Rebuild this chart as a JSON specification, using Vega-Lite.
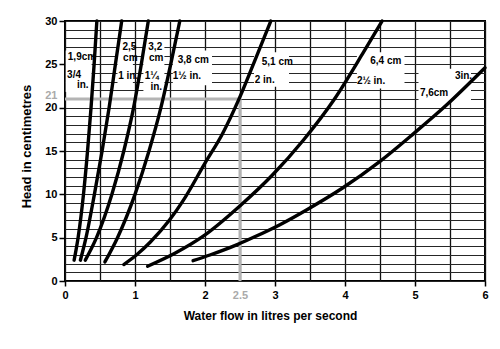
{
  "$schema": "https://vega.github.io/schema/vega-lite/v6.json",
  "width": 420,
  "height": 260,
  "autosize": {"type": "none"},
  "padding": {"left": 65, "top": 21, "right": 15, "bottom": 68},
  "background": "white",
  "config": {"view": {"stroke": "black", "strokeWidth": 2}},
  "datasets": {
    "curves": [
      {"s": "A", "q": 0.13, "h": 2.4}, {"s": "A", "q": 0.187, "h": 5}, {"s": "A", "q": 0.264, "h": 10}, {"s": "A", "q": 0.322, "h": 15}, {"s": "A", "q": 0.372, "h": 20}, {"s": "A", "q": 0.416, "h": 25}, {"s": "A", "q": 0.455, "h": 30},
      {"s": "B", "q": 0.22, "h": 2.4}, {"s": "B", "q": 0.3, "h": 5}, {"s": "B", "q": 0.42, "h": 10}, {"s": "B", "q": 0.53, "h": 15}, {"s": "B", "q": 0.63, "h": 20}, {"s": "B", "q": 0.72, "h": 25}, {"s": "B", "q": 0.81, "h": 30},
      {"s": "C", "q": 0.29, "h": 2.4}, {"s": "C", "q": 0.45, "h": 5}, {"s": "C", "q": 0.67, "h": 10}, {"s": "C", "q": 0.84, "h": 15}, {"s": "C", "q": 0.98, "h": 20}, {"s": "C", "q": 1.09, "h": 25}, {"s": "C", "q": 1.19, "h": 30},
      {"s": "D", "q": 0.57, "h": 2.2}, {"s": "D", "q": 0.75, "h": 5}, {"s": "D", "q": 1.0, "h": 10}, {"s": "D", "q": 1.2, "h": 15}, {"s": "D", "q": 1.37, "h": 20}, {"s": "D", "q": 1.51, "h": 25}, {"s": "D", "q": 1.64, "h": 30},
      {"s": "E", "q": 0.84, "h": 1.9}, {"s": "E", "q": 1.02, "h": 3}, {"s": "E", "q": 1.22, "h": 4.5}, {"s": "E", "q": 1.49, "h": 7}, {"s": "E", "q": 1.69, "h": 9.3}, {"s": "E", "q": 2.0, "h": 13.6}, {"s": "E", "q": 2.25, "h": 17}, {"s": "E", "q": 2.48, "h": 20.9}, {"s": "E", "q": 2.69, "h": 25}, {"s": "E", "q": 2.94, "h": 30},
      {"s": "F", "q": 1.18, "h": 1.7}, {"s": "F", "q": 1.57, "h": 3.2}, {"s": "F", "q": 1.98, "h": 5.2}, {"s": "F", "q": 2.49, "h": 8.6}, {"s": "F", "q": 2.96, "h": 12.2}, {"s": "F", "q": 3.41, "h": 16.3}, {"s": "F", "q": 3.85, "h": 21.0}, {"s": "F", "q": 4.25, "h": 26.2}, {"s": "F", "q": 4.53, "h": 30},
      {"s": "G", "q": 1.83, "h": 2.35}, {"s": "G", "q": 2.07, "h": 3}, {"s": "G", "q": 2.46, "h": 4.2}, {"s": "G", "q": 2.71, "h": 5.1}, {"s": "G", "q": 3.07, "h": 6.5}, {"s": "G", "q": 3.45, "h": 8.2}, {"s": "G", "q": 3.96, "h": 10.7}, {"s": "G", "q": 4.5, "h": 13.8}, {"s": "G", "q": 4.98, "h": 17}, {"s": "G", "q": 5.45, "h": 20.3}, {"s": "G", "q": 6.0, "h": 24.6}
    ],
    "boxes": [
      {"q": 0.01, "q2": 0.38, "h": 21.8, "h2": 26.6},
      {"q": 0.75, "q2": 0.97, "h": 22.8, "h2": 27.6},
      {"q": 1.12, "q2": 1.42, "h": 21.6, "h2": 27.6},
      {"q": 1.54, "q2": 2.1, "h": 22.6, "h2": 26.6},
      {"q": 2.7, "q2": 3.2, "h": 22.4, "h2": 26.4},
      {"q": 4.17, "q2": 4.85, "h": 22.2, "h2": 26.4},
      {"q": 5.05, "q2": 5.8, "h": 20.8, "h2": 24.5}
    ],
    "highlight": [
      {"q": 0, "q2": 2.5, "h": 21, "h2": 21},
      {"q": 2.5, "q2": 2.5, "h": 0, "h2": 21}
    ],
    "labels": [
      {"t": "1,9cm", "q": 0.04, "h": 25.8},
      {"t": "3/4", "q": 0.03, "h": 23.8},
      {"t": "in.", "q": 0.17, "h": 22.6},
      {"t": "2,5", "q": 0.82, "h": 27.0},
      {"t": "cm", "q": 0.83, "h": 25.7},
      {"t": "1 in.", "q": 0.76, "h": 23.6},
      {"t": "3,2", "q": 1.19, "h": 27.0},
      {"t": "cm", "q": 1.2, "h": 25.7},
      {"t": "1¼", "q": 1.14, "h": 23.7},
      {"t": "in.", "q": 1.22, "h": 22.4},
      {"t": "3,8 cm", "q": 1.61, "h": 25.5},
      {"t": "1½ in.", "q": 1.54, "h": 23.6},
      {"t": "5,1 cm", "q": 2.81, "h": 25.3},
      {"t": "2 in.", "q": 2.71, "h": 23.2},
      {"t": "6,4 cm", "q": 4.36, "h": 25.4},
      {"t": "2½ in.", "q": 4.17, "h": 23.1},
      {"t": "3in.", "q": 5.57, "h": 23.6},
      {"t": "7,6cm", "q": 5.07, "h": 21.7}
    ]
  },
  "encoding": {
    "x": {
      "field": "q", "type": "quantitative",
      "scale": {"domain": [0, 6], "nice": false},
      "axis": {
        "title": "Water flow in litres per second",
        "values": [0, 0.5, 1, 1.5, 2, 2.5, 3, 3.5, 4, 4.5, 5, 5.5, 6],
        "grid": true, "gridColor": "#111111", "gridWidth": 1.3,
        "domain": false,
        "tickSize": 5, "tickWidth": 1.5,
        "tickColor": {"condition": {"test": "datum.value % 1 == 0", "value": "black"}, "value": "transparent"},
        "labelExpr": "datum.value % 1 == 0 ? format(datum.value, 'd') : (datum.value == 2.5 ? '2.5' : '')",
        "labelColor": {"condition": {"test": "datum.value == 2.5", "value": "#aaaaaa"}, "value": "black"},
        "labelFont": "Liberation Sans", "labelFontWeight": "bold", "labelFontSize": 11,
        "labelPadding": 3, "labelFlush": false, "labelOverlap": false,
        "titleFont": "Liberation Sans", "titleFontWeight": "bold", "titleFontSize": 12, "titleColor": "black",
        "titleX": 205, "titleY": 34, "titleBaseline": "middle"
      }
    },
    "y": {
      "field": "h", "type": "quantitative",
      "scale": {"domain": [0, 30], "nice": false},
      "axis": {
        "title": "Head in centimetres",
        "values": [0, 1, 2, 3, 4, 5, 6, 7, 8, 9, 10, 11, 12, 13, 14, 15, 16, 17, 18, 19, 20, 21, 22, 23, 24, 25, 26, 27, 28, 29, 30],
        "grid": true, "gridColor": "#262626", "gridWidth": 1,
        "domain": false,
        "tickSize": 6, "tickWidth": 1.5,
        "tickColor": {"condition": {"test": "datum.value % 5 == 0", "value": "black"}, "value": "transparent"},
        "labelExpr": "datum.value % 5 == 0 || datum.value == 21 ? datum.label : ''",
        "labelColor": {"condition": {"test": "datum.value == 21", "value": "#aaaaaa"}, "value": "black"},
        "labelOffset": {"condition": {"test": "datum.value == 21", "value": -4}, "value": 0},
        "labelFont": "Liberation Sans", "labelFontWeight": "bold", "labelFontSize": 11,
        "labelPadding": 2, "labelFlush": false, "labelOverlap": false,
        "titleFont": "Liberation Sans", "titleFontWeight": "bold", "titleFontSize": 13, "titleColor": "black",
        "titleX": -39, "titleY": 125, "titleBaseline": "middle"
      }
    }
  },
  "layer": [
    {
      "data": {"name": "boxes"},
      "mark": {"type": "rect", "fill": "white", "stroke": null},
      "encoding": {"x2": {"field": "q2"}, "y2": {"field": "h2"}}
    },
    {
      "data": {"name": "highlight"},
      "mark": {"type": "rule", "color": "#b4b4b4", "strokeWidth": 3},
      "encoding": {"x2": {"field": "q2"}, "y2": {"field": "h2"}}
    },
    {
      "data": {"name": "curves"},
      "mark": {"type": "line", "color": "black", "strokeWidth": 3.4, "interpolate": "monotone", "strokeCap": "round"},
      "encoding": {"detail": {"field": "s"}}
    },
    {
      "data": {"name": "labels"},
      "mark": {"type": "text", "align": "left", "baseline": "middle", "font": "Liberation Sans Narrow, Liberation Sans", "fontWeight": "bold", "fontSize": 10, "color": "black"},
      "encoding": {"text": {"field": "t"}}
    }
  ]
}
